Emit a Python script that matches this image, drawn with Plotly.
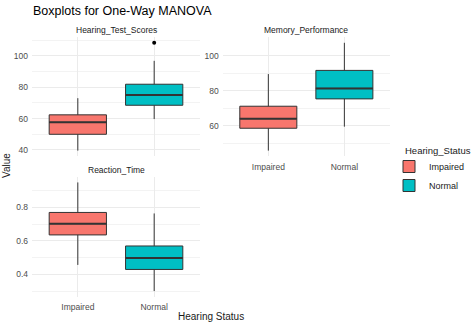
import plotly.graph_objects as go

# ---- data ----
groups = ["Impaired", "Normal"]
colors = ["#F8766D", "#00BFC4"]
panels = ["Hearing_Test_Scores", "Memory_Performance", "Reaction_Time"]

hearing_q1 = [50.0, 68.5]
hearing_med = [57.6, 75.0]
hearing_q3 = [62.4, 81.9]
hearing_lo = [39.6, 59.7]
hearing_hi = [73.0, 96.8]
hearing_outliers = [[], [108.3]]

memory_q1 = [58.5, 75.3]
memory_med = [64.0, 81.3]
memory_q3 = [71.1, 91.6]
memory_lo = [45.7, 59.4]
memory_hi = [89.5, 107.4]
memory_outliers = [[], []]

reaction_q1 = [0.636, 0.430]
reaction_med = [0.703, 0.498]
reaction_q3 = [0.770, 0.570]
reaction_lo = [0.457, 0.301]
reaction_hi = [0.949, 0.764]
reaction_outliers = [[], []]

stats = [
    (hearing_q1, hearing_med, hearing_q3, hearing_lo, hearing_hi, hearing_outliers),
    (memory_q1, memory_med, memory_q3, memory_lo, memory_hi, memory_outliers),
    (reaction_q1, reaction_med, reaction_q3, reaction_lo, reaction_hi, reaction_outliers),
]
ytick_step = [20, 20, 0.2]

W, H = 474, 327
FONT = "Liberation Sans, Arial, sans-serif"
BOX_W = 0.75
GRID = "#EBEBEB"
MINOR = "#F3F3F3"
OUTLINE = "#333333"
TICK = dict(family=FONT, size=8.5, color="#4D4D4D")

# panel domains (pixels -> paper)
px_x = [(32, 200), (222.7, 390), (32, 200)]
px_y = [(37.4, 156), (37.4, 156), (177, 296.5)]

fig = go.Figure()

for p, (q1, med, q3, lo, hi, outl) in enumerate(stats):
    ax = "" if p == 0 else str(p + 1)
    xref, yref = "x" + ax, "y" + ax
    for g, name in enumerate(groups):
        pos = g + 1
        fig.add_trace(go.Box(
            x=[pos], q1=[q1[g]], median=[med[g]], q3=[q3[g]],
            lowerfence=[lo[g]], upperfence=[hi[g]],
            name=name, legendgroup=name, showlegend=(p == 0),
            fillcolor=colors[g], line=dict(color=OUTLINE, width=1),
            whiskerwidth=0, width=BOX_W, boxpoints=False,
            xaxis=xref, yaxis=yref, hoverinfo="skip",
        ))
        # thicker median line like ggplot
        fig.add_trace(go.Scatter(
            x=[pos - BOX_W / 2, pos + BOX_W / 2], y=[med[g], med[g]],
            mode="lines", line=dict(color=OUTLINE, width=2),
            showlegend=False, xaxis=xref, yaxis=yref, hoverinfo="skip",
        ))
        if outl[g]:
            fig.add_trace(go.Scatter(
                x=[pos] * len(outl[g]), y=outl[g], mode="markers",
                marker=dict(color="black", size=4),
                showlegend=False, xaxis=xref, yaxis=yref, hoverinfo="skip",
            ))

    # axis ranges: ggplot-like 5% expansion of data extent
    allv = lo + hi + [v for o in outl for v in o]
    vmin, vmax = min(allv), max(allv)
    pad = 0.05 * (vmax - vmin)
    step = ytick_step[p]
    x0, x1 = px_x[p]
    y0, y1 = px_y[p]
    fig.update_layout(**{
        "xaxis" + ax: dict(
            domain=[x0 / W, x1 / W], range=[0.4, 2.6],
            tickvals=[1, 2], ticktext=groups,
            showticklabels=(p != 0), ticks="", showline=False, zeroline=False,
            showgrid=True, gridcolor=GRID, gridwidth=1,
            tickfont=TICK, ticklabelstandoff=4,
            anchor=yref, fixedrange=True,
        ),
        "yaxis" + ax: dict(
            domain=[1 - y1 / H, 1 - y0 / H], range=[vmin - pad, vmax + pad],
            dtick=step, tick0=0, ticks="", showline=False, zeroline=False,
            showgrid=True, gridcolor=GRID, gridwidth=1,
            minor=dict(dtick=step / 2, tick0=0, showgrid=True, gridcolor=MINOR, gridwidth=1),
            tickfont=TICK, ticklabelstandoff=3,
            anchor=xref, fixedrange=True,
        ),
    })

annotations = []
for p, name in enumerate(panels):
    x0, x1 = px_x[p]
    y0 = px_y[p][0]
    annotations.append(dict(
        text=name, x=(x0 + x1) / 2 / W, y=1 - (y0 - 7) / H,
        xref="paper", yref="paper", showarrow=False,
        xanchor="center", yanchor="middle",
        font=dict(family=FONT, size=8.5, color="#1A1A1A"),
    ))
annotations.append(dict(
    text="Value", x=6 / W, y=1 - 166 / H, xref="paper", yref="paper",
    showarrow=False, textangle=-90, xanchor="center", yanchor="middle",
    font=dict(family=FONT, size=10, color="#1A1A1A"),
))
annotations.append(dict(
    text="Hearing Status", x=211 / W, y=1 - 316 / H, xref="paper", yref="paper",
    showarrow=False, xanchor="center", yanchor="middle",
    font=dict(family=FONT, size=10, color="#1A1A1A"),
))
annotations.append(dict(
    text="Boxplots for One-Way MANOVA", x=31 / W, y=1 - 11 / H,
    xref="paper", yref="paper", showarrow=False,
    xanchor="left", yanchor="middle",
    font=dict(family=FONT, size=12.5, color="#000000"),
))
# legend title
annotations.append(dict(
    text="Hearing_Status", x=403 / W, y=1 - 150 / H,
    xref="paper", yref="paper", showarrow=False,
    xanchor="left", yanchor="middle",
    font=dict(family=FONT, size=9.5, color="#1A1A1A"),
))

fig.update_layout(
    width=W, height=H, autosize=False,
    margin=dict(l=0, r=0, t=0, b=0),
    paper_bgcolor="white", plot_bgcolor="white",
    annotations=annotations,
    legend=dict(
        x=389 / W, y=1 - 152 / H, xanchor="left", yanchor="top",
        font=dict(family=FONT, size=9, color="#1A1A1A"),
        bgcolor="rgba(0,0,0,0)", itemwidth=30, tracegroupgap=0,
    ),
    showlegend=True,
)

fig.write_html("out.html")
